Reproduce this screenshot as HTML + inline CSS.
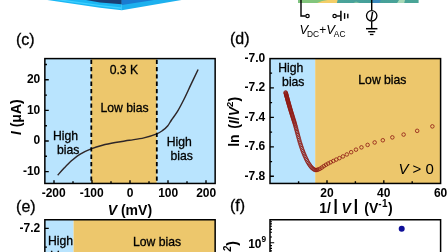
<!DOCTYPE html>
<html><head><meta charset="utf-8"><title>figure</title>
<style>
html,body{margin:0;padding:0;background:#fff;}
body{width:448px;height:252px;overflow:hidden;}
svg{display:block;}
text{font-family:"Liberation Sans",Arial,Helvetica,sans-serif;fill:#000;}
.b{font-weight:bold;}
.i{font-style:italic;}
.tk{font-weight:bold;font-size:12px;}
.rg{font-size:12.2px;stroke:#000;stroke-width:0.3px;}
.pl{font-size:16px;stroke:#000;stroke-width:0.3px;}
</style></head><body>
<svg width="448" height="252" viewBox="0 0 448 252">
<rect width="448" height="252" fill="#fff"/>

<g>
<polygon points="47.3,0 100,7.7 121.8,10.3 121.8,0" fill="#1bb7f4"/>
<polygon points="56,0 100,6.3 121.8,9.0 121.8,7.6 100,5.0 65,0" fill="#3fd0ff"/>
<polygon points="86,0 100,2.4 121.8,4.3 121.8,0" fill="#1b3f74"/>
<polygon points="121.8,0 121.8,10.3 181.5,0" fill="#1db0ee"/>
<polygon points="121.8,0 121.8,5 154,0" fill="#1a7bd0"/>
</g>
<g>
<defs><clipPath id="stripclip"><rect x="298.2" y="0" width="120.4" height="2.9"/></clipPath>
<linearGradient id="tealg" x1="0" x2="1" y1="0" y2="0">
<stop offset="0" stop-color="#52aa98"/><stop offset="0.6" stop-color="#459f9a"/><stop offset="1" stop-color="#4aa596"/></linearGradient></defs>
<g clip-path="url(#stripclip)">
<rect x="298" y="0" width="121" height="4" fill="url(#tealg)"/>
<polygon points="298,0 331,0 317.5,4 298,4" fill="#82c57c"/>
<path d="M316.4 3.4Q321.5 0.3 327.5 0H337.6L336.6 4H316.4Z" fill="#f3ce68"/>
<polygon points="372.4,0 381,0 378.5,4 372.4,4" fill="#3c8abc"/>
<polygon points="396.5,4 399,0 405,0 404,4" fill="#a6d8b6"/>
<polygon points="352,4 356,1.5 362,4" fill="#7cc0a0"/>
</g>
<g fill="none" stroke="#000" stroke-width="1.4">
<path d="M301 0V16H305.6"/>
<circle cx="307.5" cy="16" r="1.7" fill="#fff" stroke-width="1.2"/>
<circle cx="334.6" cy="16" r="1.7" fill="#fff" stroke-width="1.2"/>
<path d="M336.4 16H340.8"/>
<path d="M340.9 10.7V21" stroke-width="1.5"/>
<path d="M344.6 13.1V18.9" stroke-width="1.4"/>
<path d="M347.8 13.7V18.3" stroke-width="1.4"/>
<path d="M371.7 0V10.2"/>
<circle cx="371.7" cy="15.8" r="5.2" fill="#fff" stroke-width="1.3"/>
<path d="M371.7 21.2V28.4"/>
<path d="M366 28.7H377.4" stroke-width="1.5"/>
<path d="M368.2 31.7H375.2" stroke-width="1.4"/>
<path d="M369.9 34.5H373.5" stroke-width="1.3"/>
</g>
<text x="371.6" y="19.6" text-anchor="middle" class="i b" font-size="10.5">I</text>
<text x="299.4" y="33.9" font-size="13"><tspan class="i">V</tspan><tspan font-size="8.4" dy="2.9" dx="-1">DC</tspan><tspan dy="-2.9" font-size="12">+</tspan><tspan class="i">V</tspan><tspan font-size="8.4" dy="2.9" dx="-1">AC</tspan></text>
</g>
<text x="16" y="45.0" class="pl">(c)</text>
<text x="230" y="43.6" class="pl">(d)</text>
<text x="16.1" y="211.6" class="pl">(e)</text>
<text x="230" y="211.2" class="pl">(f)</text>
<rect x="44.85" y="58.6" width="46.449999999999996" height="124.85" fill="#b9e4fe"/>
<rect x="91.3" y="58.6" width="65.50000000000001" height="124.85" fill="#edc76c"/>
<rect x="156.8" y="58.6" width="58.349999999999994" height="124.85" fill="#b9e4fe"/>
<path d="M44.85 79.80h3.9 M44.85 110.40h3.9 M44.85 141.00h3.9 M44.85 171.60h3.9 M44.85 64.50h2.1 M44.85 95.10h2.1 M44.85 125.70h2.1 M44.85 156.30h2.1 M54.00 183.45v-3.2 M92.00 183.45v-3.2 M130.00 183.45v-3.2 M168.00 183.45v-3.2 M206.00 183.45v-3.2 M73.00 183.45v-2.3 M111.00 183.45v-2.3 M149.00 183.45v-2.3 M187.00 183.45v-2.3" stroke="#000" stroke-width="1.4" fill="none"/>
<path d="M57.70 175.20C58.82 173.97 62.02 170.28 64.40 167.80C66.78 165.32 69.43 162.55 72.00 160.30C74.57 158.05 76.62 156.20 79.80 154.30C82.98 152.40 87.32 150.42 91.10 148.90C94.88 147.38 98.48 146.27 102.50 145.20C106.52 144.13 110.72 143.32 115.20 142.50C119.68 141.68 124.62 141.07 129.40 140.30C134.18 139.53 139.33 138.97 143.90 137.90C148.47 136.83 153.62 135.18 156.80 133.90C159.98 132.62 161.20 131.52 163.00 130.20C164.80 128.88 166.18 127.70 167.60 126.00C169.02 124.30 169.85 122.43 171.50 120.00C173.15 117.57 175.42 114.85 177.50 111.40C179.58 107.95 181.75 103.80 184.00 99.30C186.25 94.80 188.65 89.37 191.00 84.40C193.35 79.43 196.92 71.98 198.10 69.50" stroke="#2e2628" stroke-width="1.45" fill="none"/>
<path d="M91.3 59.7V183.45M156.8 59.7V183.45" stroke="#000" stroke-width="1.8" stroke-dasharray="4.3 3.0" fill="none"/>
<rect x="44.85" y="58.6" width="170.3" height="124.85" fill="none" stroke="#000" stroke-width="1.5"/>
<text x="40.3" y="83.20" text-anchor="end" class="tk">20</text>
<text x="40.3" y="113.80" text-anchor="end" class="tk">10</text>
<text x="40.3" y="144.40" text-anchor="end" class="tk">0</text>
<text x="40.3" y="175.00" text-anchor="end" class="tk">-10</text>
<text x="53.70" y="197.4" text-anchor="middle" class="tk">-200</text>
<text x="91.70" y="197.4" text-anchor="middle" class="tk">-100</text>
<text x="130.20" y="197.4" text-anchor="middle" class="tk">0</text>
<text x="168.20" y="197.4" text-anchor="middle" class="tk">100</text>
<text x="206.20" y="197.4" text-anchor="middle" class="tk">200</text>
<text x="129.9" y="214.5" text-anchor="middle" class="b" font-size="14"><tspan class="i">V</tspan> (mV)</text>
<text transform="translate(21.4,117.2) rotate(-90)" text-anchor="middle" class="b" font-size="14"><tspan class="i">I</tspan> (μA)</text>
<text x="123.9" y="73.9" text-anchor="middle" class="rg">0.3 K</text>
<text x="124.5" y="111.6" text-anchor="middle" class="rg">Low bias</text>
<text x="65.6" y="139.9" text-anchor="middle" class="rg">High</text>
<text x="68.2" y="154.3" text-anchor="middle" class="rg">bias</text>
<text x="179.2" y="145.8" text-anchor="middle" class="rg">High</text>
<text x="181.6" y="160.2" text-anchor="middle" class="rg">bias</text>
<rect x="270.0" y="58.6" width="45.19999999999999" height="124.85" fill="#b9e4fe"/>
<rect x="315.2" y="58.6" width="125.40000000000003" height="124.85" fill="#edc76c"/>
<path d="M270.0 87.88h3.9 M270.0 117.36h3.9 M270.0 146.84h3.9 M270.0 176.32h3.9 M270.0 73.14h2.1 M270.0 102.62h2.1 M270.0 132.10h2.1 M270.0 161.58h2.1 M327.00 183.45v-3.1 M383.80 183.45v-3.1 M298.60 183.45v-2.2 M355.40 183.45v-2.2 M412.20 183.45v-2.2" stroke="#000" stroke-width="1.4" fill="none"/>
<g fill="none" stroke="#8f1a14" stroke-opacity="0.86" stroke-width="0.95">
<circle cx="285.62" cy="92.45" r="1.78"/>
<circle cx="285.76" cy="92.97" r="1.78"/>
<circle cx="285.90" cy="93.50" r="1.78"/>
<circle cx="286.04" cy="94.03" r="1.78"/>
<circle cx="286.19" cy="94.58" r="1.78"/>
<circle cx="286.33" cy="95.12" r="1.78"/>
<circle cx="286.48" cy="95.68" r="1.78"/>
<circle cx="286.64" cy="96.25" r="1.78"/>
<circle cx="286.79" cy="96.82" r="1.78"/>
<circle cx="286.95" cy="97.40" r="1.78"/>
<circle cx="287.11" cy="97.99" r="1.78"/>
<circle cx="287.28" cy="98.59" r="1.78"/>
<circle cx="287.45" cy="99.20" r="1.78"/>
<circle cx="287.62" cy="99.82" r="1.78"/>
<circle cx="287.79" cy="100.44" r="1.78"/>
<circle cx="287.97" cy="101.08" r="1.78"/>
<circle cx="288.15" cy="101.72" r="1.78"/>
<circle cx="288.34" cy="102.38" r="1.78"/>
<circle cx="288.53" cy="103.04" r="1.78"/>
<circle cx="288.72" cy="103.71" r="1.78"/>
<circle cx="288.91" cy="104.40" r="1.78"/>
<circle cx="289.11" cy="105.09" r="1.78"/>
<circle cx="289.32" cy="105.79" r="1.78"/>
<circle cx="289.53" cy="106.50" r="1.78"/>
<circle cx="289.74" cy="107.23" r="1.78"/>
<circle cx="289.96" cy="107.96" r="1.78"/>
<circle cx="290.18" cy="108.71" r="1.78"/>
<circle cx="290.41" cy="109.47" r="1.78"/>
<circle cx="290.64" cy="110.24" r="1.78"/>
<circle cx="290.88" cy="111.03" r="1.78"/>
<circle cx="291.12" cy="111.83" r="1.78"/>
<circle cx="291.37" cy="112.64" r="1.78"/>
<circle cx="291.63" cy="113.48" r="1.78"/>
<circle cx="291.89" cy="114.33" r="1.78"/>
<circle cx="292.16" cy="115.20" r="1.78"/>
<circle cx="292.43" cy="116.09" r="1.78"/>
<circle cx="292.71" cy="116.99" r="1.78"/>
<circle cx="293.00" cy="117.90" r="1.78"/>
<circle cx="293.29" cy="118.82" r="1.78"/>
<circle cx="293.59" cy="119.76" r="1.78"/>
<circle cx="293.90" cy="120.73" r="1.78"/>
<circle cx="294.22" cy="121.74" r="1.78"/>
<circle cx="294.54" cy="122.80" r="1.78"/>
<circle cx="294.88" cy="123.93" r="1.78"/>
<circle cx="295.22" cy="125.13" r="1.78"/>
<circle cx="295.58" cy="126.40" r="1.78"/>
<circle cx="295.94" cy="127.75" r="1.78"/>
<circle cx="296.31" cy="129.16" r="1.78"/>
<circle cx="296.69" cy="130.62" r="1.78"/>
<circle cx="297.09" cy="132.11" r="1.78"/>
<circle cx="297.50" cy="133.62" r="1.78"/>
<circle cx="297.91" cy="135.15" r="1.78"/>
<circle cx="298.35" cy="136.75" r="1.78"/>
<circle cx="298.79" cy="138.40" r="1.78"/>
<circle cx="299.25" cy="140.08" r="1.78"/>
<circle cx="299.72" cy="141.76" r="1.78"/>
<circle cx="300.21" cy="143.40" r="1.78"/>
<circle cx="300.72" cy="144.98" r="1.78"/>
<circle cx="301.24" cy="146.57" r="1.78"/>
<circle cx="301.78" cy="148.15" r="1.78"/>
<circle cx="302.33" cy="149.73" r="1.78"/>
<circle cx="302.91" cy="151.29" r="1.78"/>
<circle cx="303.51" cy="152.82" r="1.78"/>
<circle cx="304.13" cy="154.30" r="1.78"/>
<circle cx="304.77" cy="155.79" r="1.78"/>
<circle cx="305.44" cy="157.28" r="1.78"/>
<circle cx="306.13" cy="158.77" r="1.78"/>
<circle cx="306.85" cy="160.24" r="1.78"/>
<circle cx="307.60" cy="161.67" r="1.78"/>
<circle cx="308.38" cy="163.03" r="1.78"/>
<circle cx="309.19" cy="164.29" r="1.78"/>
<circle cx="310.04" cy="165.52" r="1.78"/>
<circle cx="310.92" cy="166.71" r="1.78"/>
<circle cx="311.85" cy="167.77" r="1.78"/>
<circle cx="312.81" cy="168.61" r="1.78"/>
<circle cx="313.82" cy="169.31" r="1.78"/>
<circle cx="314.88" cy="169.90" r="1.78"/>
<circle cx="315.99" cy="170.09" r="1.78"/>
<circle cx="317.16" cy="169.88" r="1.78"/>
<circle cx="318.39" cy="169.44" r="1.78"/>
<circle cx="320.08" cy="168.70" r="1.78"/>
<circle cx="321.89" cy="167.54" r="1.78"/>
<circle cx="323.84" cy="166.13" r="1.78"/>
<circle cx="325.94" cy="164.77" r="1.78"/>
<circle cx="328.20" cy="163.53" r="1.78"/>
<circle cx="330.66" cy="162.28" r="1.78"/>
<circle cx="333.33" cy="160.99" r="1.78"/>
<circle cx="336.24" cy="159.60" r="1.78"/>
<circle cx="339.44" cy="158.15" r="1.78"/>
<circle cx="342.95" cy="156.44" r="1.78"/>
<circle cx="346.84" cy="154.44" r="1.78"/>
<circle cx="351.16" cy="152.17" r="1.78"/>
<circle cx="355.99" cy="149.66" r="1.78"/>
<circle cx="361.44" cy="147.36" r="1.78"/>
<circle cx="367.61" cy="144.92" r="1.78"/>
<circle cx="374.67" cy="142.46" r="1.78"/>
<circle cx="382.82" cy="140.25" r="1.78"/>
<circle cx="392.34" cy="137.38" r="1.78"/>
<circle cx="403.62" cy="134.57" r="1.78"/>
<circle cx="417.17" cy="130.84" r="1.78"/>
<circle cx="432.36" cy="126.38" r="1.78"/>
</g>
<rect x="270.0" y="58.6" width="170.60000000000002" height="124.85" fill="none" stroke="#000" stroke-width="1.5"/>
<text x="265.2" y="62.00" text-anchor="end" class="tk">-7.0</text>
<text x="265.2" y="91.48" text-anchor="end" class="tk">-7.2</text>
<text x="265.2" y="120.96" text-anchor="end" class="tk">-7.4</text>
<text x="265.2" y="150.44" text-anchor="end" class="tk">-7.6</text>
<text x="265.2" y="179.92" text-anchor="end" class="tk">-7.8</text>
<text x="327.00" y="197.4" text-anchor="middle" class="tk">20</text>
<text x="383.80" y="197.4" text-anchor="middle" class="tk">40</text>
<text x="440.60" y="197.4" text-anchor="middle" class="tk">60</text>
<text y="213.1" class="b" font-size="14"><tspan x="319.3">1/</tspan><tspan x="333.3" dy="-1.9" font-size="17">|</tspan><tspan x="341.5" dy="1.9" class="i">V</tspan><tspan x="353.5" dy="-1.9" font-size="17">|</tspan><tspan x="364.3" dy="1.9">(V</tspan><tspan font-size="10" dy="-5.8" letter-spacing="0.4">-1</tspan><tspan dy="5.8">)</tspan></text>
<text transform="translate(239.3,121.9) rotate(-90)" text-anchor="middle" class="b" font-size="14">ln<tspan dx="1.8"> (</tspan><tspan class="i">I</tspan>/<tspan class="i">V</tspan><tspan font-size="9.5" dy="-6.4">2</tspan><tspan dy="6.4">)</tspan></text>
<text x="290.7" y="71.5" text-anchor="middle" class="rg">High</text>
<text x="293.3" y="86.2" text-anchor="middle" class="rg">bias</text>
<text x="382.4" y="84.4" text-anchor="middle" class="rg">Low bias</text>
<text x="398.4" y="174.4" font-size="15"><tspan class="i">V</tspan> &gt; 0</text>
<rect x="44.85" y="219.75" width="28.749999999999993" height="40" fill="#b9e4fe"/>
<rect x="73.6" y="219.75" width="141.55" height="40" fill="#edc76c"/>
<path d="M44.85 228.4h3.9M44.85 247.1h2.1" stroke="#000" stroke-width="1.4" fill="none"/>
<rect x="44.85" y="219.75" width="170.3" height="40" fill="none" stroke="#000" stroke-width="1.5"/>
<text x="40.3" y="232.2" text-anchor="end" class="tk">-7.2</text>
<text x="60.6" y="245.4" text-anchor="middle" class="rg">High</text>
<text x="61.4" y="260" text-anchor="middle" class="rg">bias</text>
<text x="157" y="246.4" text-anchor="middle" class="rg">Low bias</text>
<rect x="270.0" y="219.75" width="170.60000000000002" height="40" fill="#fff" stroke="#000" stroke-width="1.5"/>
<path d="M270.0 221.8h2.0 M270.0 223.9h2.0 M270.0 226.3h2.0 M270.0 229.4h2.0 M270.0 232.3h2.0 M270.0 237.0h2.0 M270.0 245.6h2.0 M270.0 248.4h2.0 M270.0 250.9h2.0 M270.0 242.8h4.2" stroke="#000" stroke-width="1.1" fill="none"/>
<circle cx="401.7" cy="228.7" r="3.0" fill="#0f0f98"/>
<text x="248.2" y="248.1" class="tk">10<tspan font-size="8.3" dy="-5.9">9</tspan></text>
<text transform="translate(237.3,251.4) rotate(-90)" class="b" font-size="14"><tspan font-size="10" dy="-6.2" class="i">2</tspan><tspan dy="6.2">)</tspan></text>
</svg></body></html>
